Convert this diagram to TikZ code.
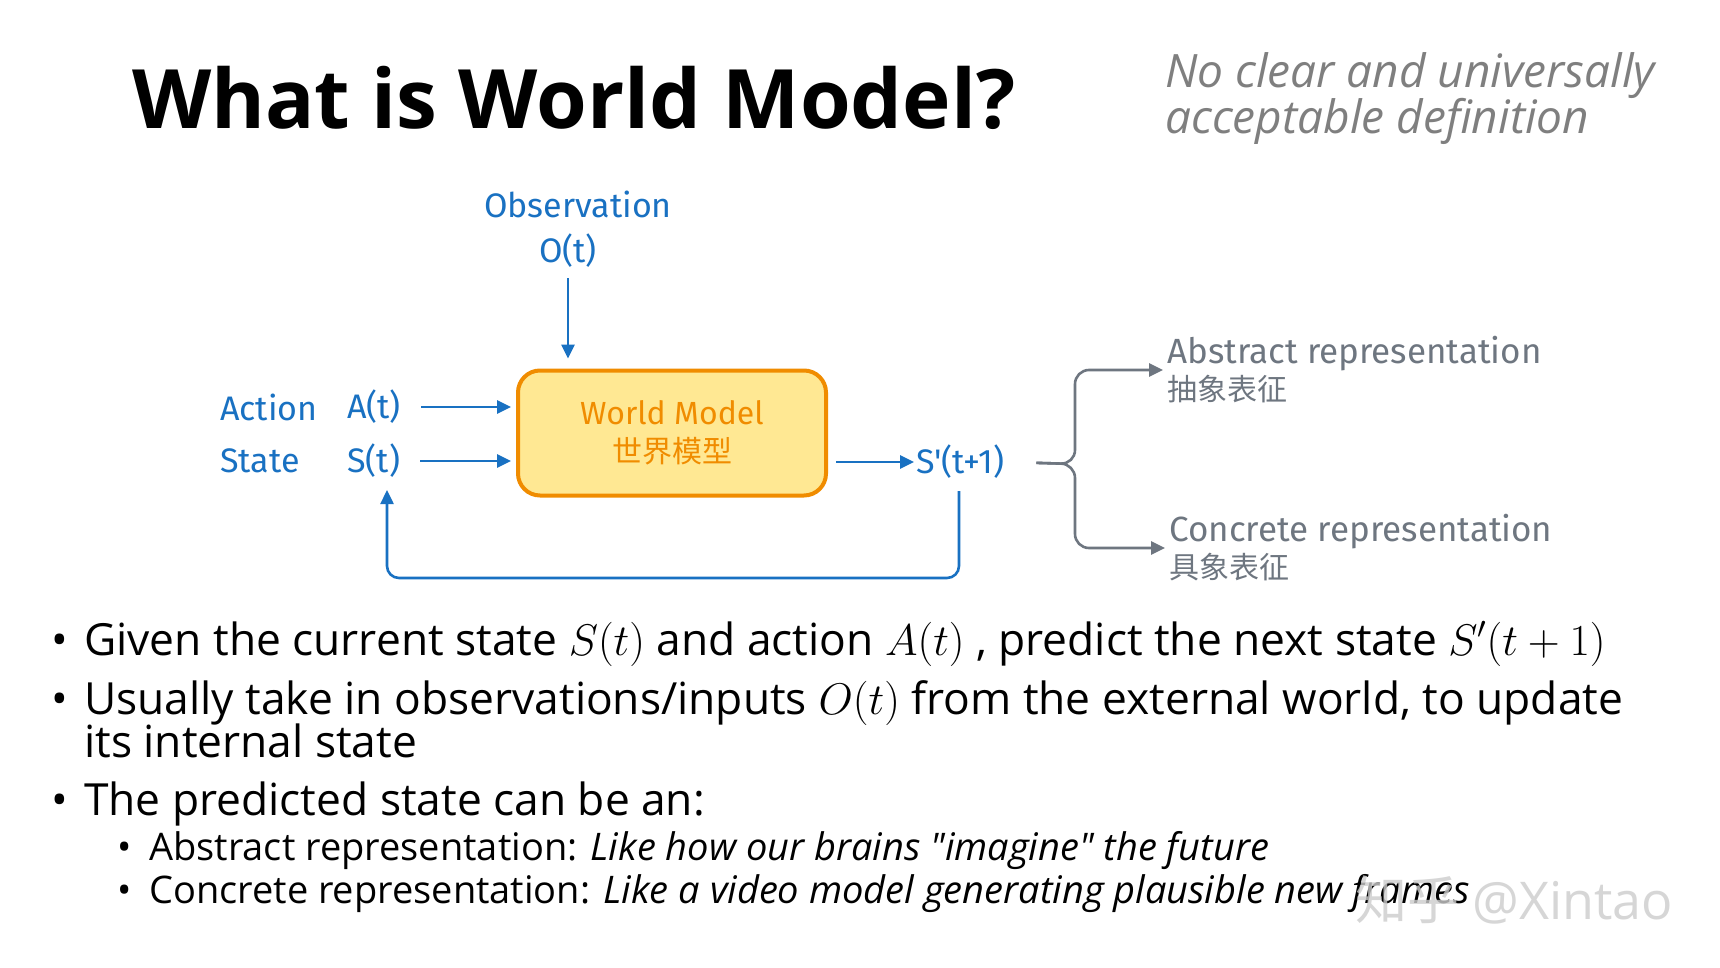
\documentclass[tikz,border=0pt]{standalone}
\usepackage{fix-cm}
\usepackage{fontspec}
\setmainfont{Open Sans}
\newfontfamily\handfont{Fira Sans}
\newfontfamily\cjkfont{Noto Sans CJK SC}
\usepackage{xcolor}
\usetikzlibrary{
  arrows.meta,
  positioning,
  calc
}
\definecolor{wmblue}{HTML}{1971C2}
\definecolor{wmorange}{HTML}{F08C00}
\definecolor{wmfill}{HTML}{FFE893}
\definecolor{repgray}{HTML}{6E7680}
\definecolor{notegray}{HTML}{7F7F7F}

\begin{document}
\begin{tikzpicture}[
  x=1pt, y=-1pt,
  title/.style={inner sep=0pt, font=\fontsize{82}{90}\selectfont\bfseries},
  note/.style={inner sep=0pt, text=notegray, font=\fontsize{46}{50}\selectfont\itshape},
  lbl/.style={inner sep=2pt, text=wmblue, font=\handfont\fontsize{34}{38}\selectfont},
  wm/.style={draw=wmorange, fill=wmfill, line width=4pt, rounded corners=22pt,
    minimum width=308pt, minimum height=125pt, align=center, text=wmorange,
    font=\handfont\fontsize{32}{38}\selectfont},
  rep/.style={inner sep=0pt, align=left, text=repgray,
    font=\handfont\fontsize{35}{37}\selectfont},
  barrow/.style={-{Triangle[length=14pt,width=13pt]}, draw=wmblue, line width=2.6pt},
  garrow/.style={-{Triangle[length=14pt,width=13pt]}, draw=repgray, line width=2.6pt,
    rounded corners=14pt},
  bul/.style={inner sep=0pt, font=\fontsize{44.3}{48}\selectfont},
  sub/.style={inner sep=0pt, font=\fontsize{38}{42}\selectfont}
  ]
  \useasboundingbox[fill=white] (0,0) rectangle (1720,968);
  % heading and side note
  \node[title, anchor=base west] (head) at (132,129) {What is World Model?};
  \node[note, anchor=base west] (note1) at (1165,88) {No clear and universally};
  \node[note, anchor=base west] (note2) at (1165,134) {acceptable definition};
  % inputs
  \node[lbl] (obs) at (578,204) {Observation};
  \node[lbl] (ot) at (568,251) {O(t)};
  \node[wm] (wm) at (672,433) {World Model\\ {\cjkfont\fontsize{30}{38}\selectfont 世界模型}};
  \node[lbl, anchor=west] (act) at (218,407) {Action};
  \node[lbl, anchor=west] (at) at (345,407) {A(t)};
  \node[lbl, anchor=west] (st) at (218,461) {State};
  \node[lbl, anchor=west] (sst) at (345,461) {S(t)};
  \draw[barrow, shorten <=8pt, shorten >=10pt] (ot.south) -- (ot.south |- wm.north);
  \draw[barrow, shorten <=18pt, shorten >=5pt] (at.east) -- (wm.west |- at.east);
  \draw[barrow, shorten <=18pt, shorten >=5pt] (sst.east) -- (wm.west |- sst.east);
  % output and feedback loop
  \node[lbl, anchor=west] (snext) at (914,462) {S'(t+1)};
  \draw[barrow, shorten <=8pt] (wm.east |- snext.west) -- (snext.west);
  \coordinate (fb) at (0,578);
  \draw[barrow, rounded corners=12pt, shorten <=10pt, shorten >=10pt]
    ([xshift=45pt]snext.south west) -- ([xshift=45pt]snext.south west |- fb)
    -- ([xshift=42pt]sst.south west |- fb) -- ([xshift=42pt]sst.south west);
  % two kinds of prediction
  \node[rep, anchor=west] (abs) at (1167,370) {Abstract representation\\ {\cjkfont\fontsize{30}{37}\selectfont 抽象表征}};
  \node[rep, anchor=west] (conc) at (1169,548) {Concrete representation\\ {\cjkfont\fontsize{30}{37}\selectfont 具象表征}};
  \coordinate (br) at (1075,464);
  \draw[garrow, shorten <=30pt] (snext.east) -- (br) |- ([xshift=-4pt]abs.west);
  \draw[garrow, shorten <=30pt] (snext.east) -- (br) |- ([xshift=-4pt]conc.west);
  % bullet points
  \node[bul, anchor=base west] (b1) at (84,655)
    {Given the current state $S(t)$ and action $A(t)$ , predict the next state $S'(t+1)$};
  \node[bul, anchor=base west] (b2) at (84,714)
    {Usually take in observations/inputs $O(t)$ from the external world, to update};
  \node[bul, anchor=base west] (b2b) at (84,757) {its internal state};
  \node[bul, anchor=base west] (b3) at (84,815) {The predicted state can be an:};
  \node[sub, anchor=base west] (s1) at (149,860)
    {Abstract representation: \textit{Like how our brains \textquotedbl imagine\textquotedbl{} the future}};
  \node[sub, anchor=base west] (s2) at (149,903)
    {Concrete representation: \textit{Like a video model generating plausible new frames}};
  \node[bul, anchor=base east] (d1) at ([xshift=-16pt]b1.base west) {•};
  \node[bul, anchor=base east] (d2) at ([xshift=-16pt]b2.base west) {•};
  \node[bul, anchor=base east] (d3) at ([xshift=-16pt]b3.base west) {•};
  \node[sub, anchor=base east] (d4) at ([xshift=-17pt]s1.base west) {•};
  \node[sub, anchor=base east] (d5) at ([xshift=-17pt]s2.base west) {•};
  % watermark
  \node[anchor=west, inner sep=0pt, text=gray!40, opacity=0.8,
    font=\fontsize{52}{56}\selectfont] (mark) at (1355,900) {{\cjkfont 知乎} @Xintao};
\end{tikzpicture}
\end{document}
